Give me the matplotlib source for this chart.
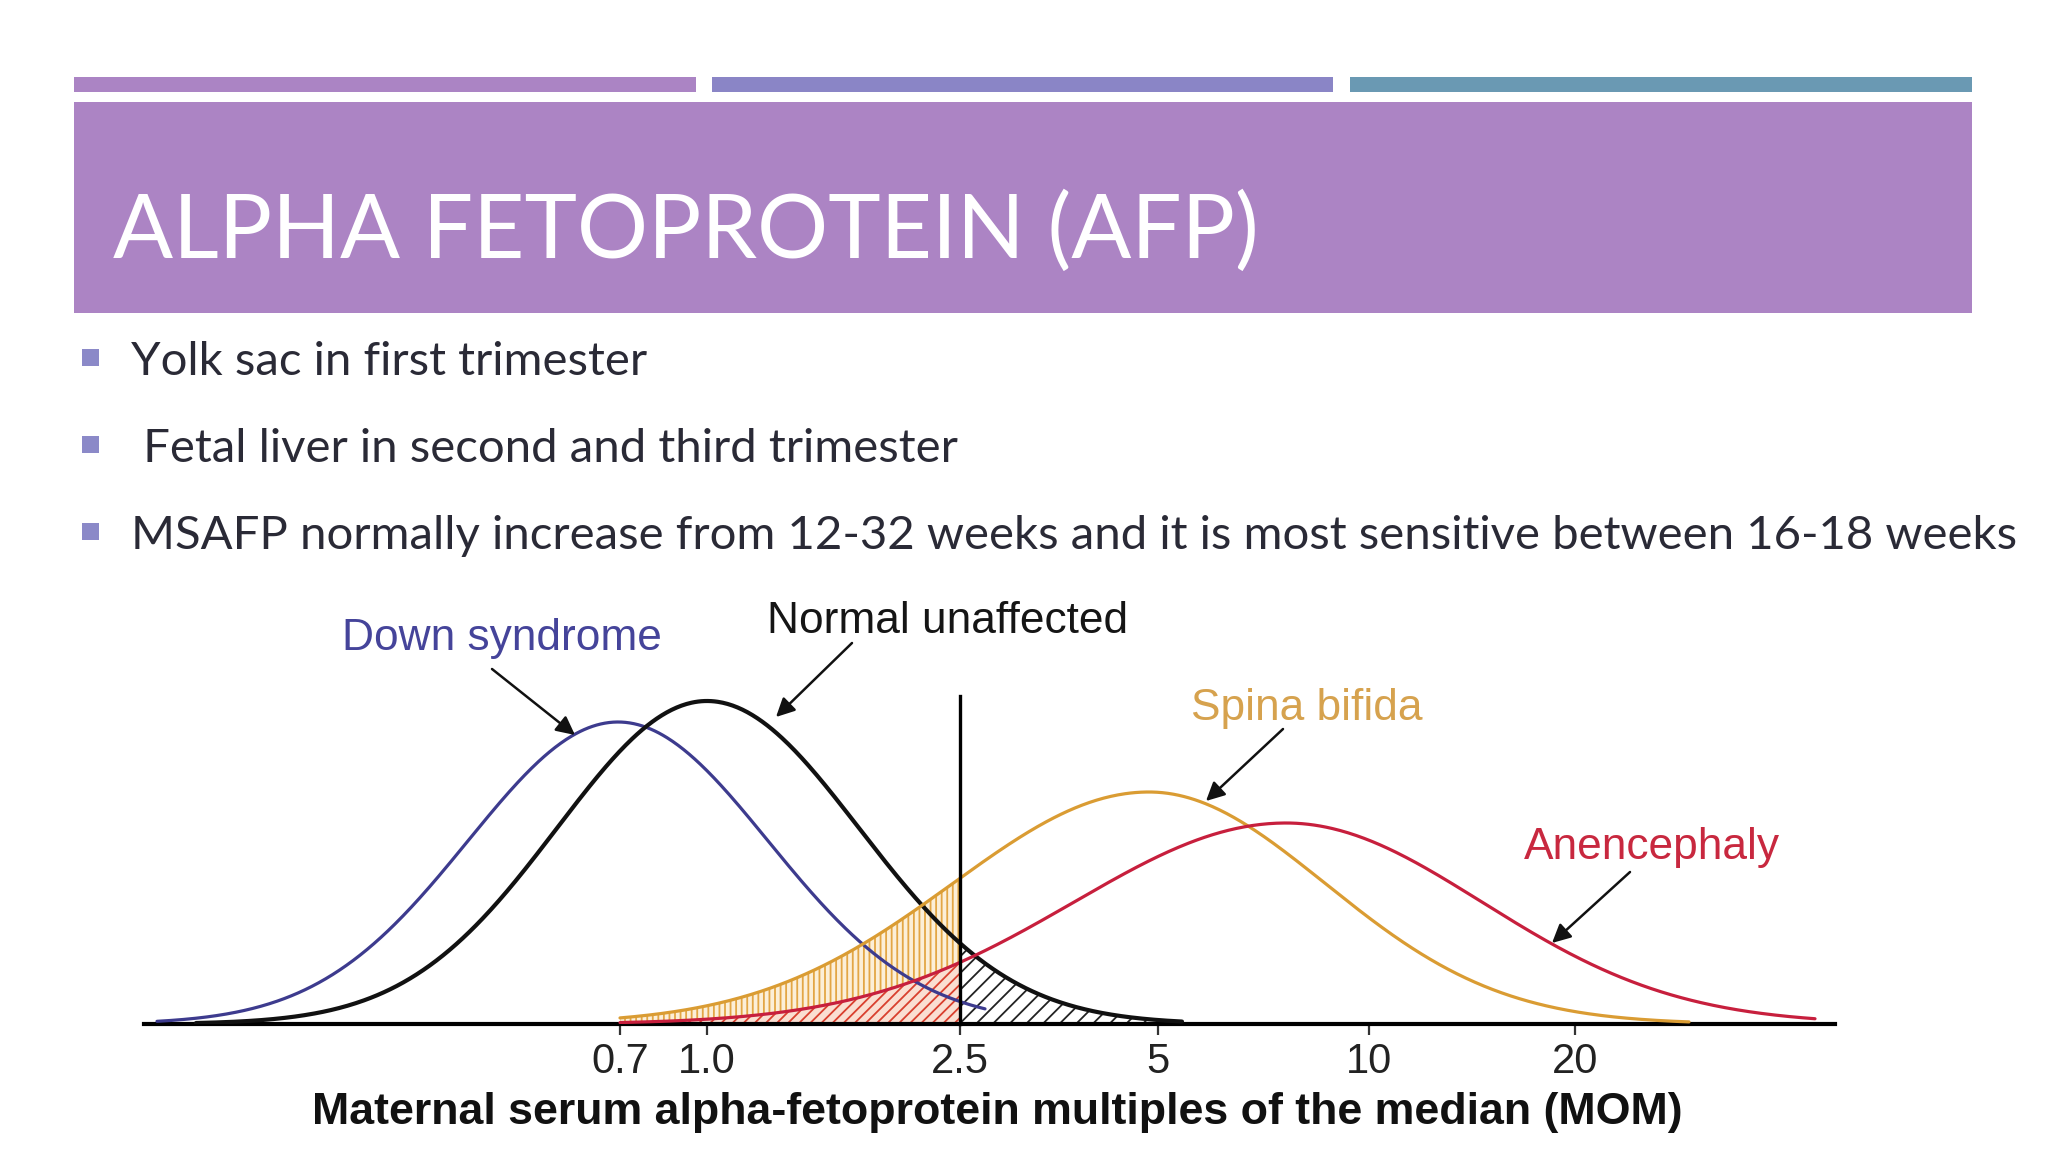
import numpy as np
import matplotlib
matplotlib.use("Agg")
import matplotlib.pyplot as plt
from matplotlib.patches import Rectangle

W, H = 2048, 1152

# ---------------- data ----------------
title = "ALPHA FETOPROTEIN (AFP)"
bullets = [
    "Yolk sac in first trimester",
    " Fetal liver in second and third trimester",
    "MSAFP normally increase from 12-32 weeks and it is most sensitive between 16-18 weeks",
]

tick_labels = ["0.7", "1.0", "2.5", "5", "10", "20"]
tick_pos = [620, 707, 960, 1158, 1369, 1575]      # position of each MOM tick on the axis
cutoff_pos = 960                                   # 2.5 MOM screening cut-off

series = ["Down syndrome", "Normal unaffected", "Spina bifida", "Anencephaly"]
peak_pos = [618, 707, 1149, 1286]
peak_height = [302, 323, 232, 201]
spread_left = [150, 150, 196, 212]
spread_right = [150, 152, 176, 196]
start_pos = [157, 196, 620, 620]
end_pos = [985, 1182, 1689, 1815]
colors = ["#3D3B8E", "#111111", "#DA9C33", "#C71F3D"]
label_colors = ["#45449A", "#151515", "#D6A24E", "#C8283F"]

xlabel = "Maternal serum alpha-fetoprotein multiples of the median (MOM)"

# ---------------- helpers ----------------
def fx(x):
    return x / W

def fy(y):
    return 1 - y / H

def curve(i, n=600):
    x = np.linspace(start_pos[i], end_pos[i], n)
    s = np.where(x < peak_pos[i], spread_left[i], spread_right[i])
    y = peak_height[i] * np.exp(-((x - peak_pos[i]) ** 2) / (2.0 * s ** 2))
    return x, y

def curve_on(i, x):
    s = np.where(x < peak_pos[i], spread_left[i], spread_right[i])
    y = peak_height[i] * np.exp(-((x - peak_pos[i]) ** 2) / (2.0 * s ** 2))
    return np.where((x >= start_pos[i]) & (x <= end_pos[i]), y, 0.0)

plt.rcParams["hatch.linewidth"] = 1.3

fig = plt.figure(figsize=(W / 100, H / 100), dpi=100)
fig.patch.set_facecolor("white")

# ---------------- slide header ----------------
bar_spans = [(74, 696, "#AB84C4"), (712, 1333, "#8A85C6"), (1350, 1972, "#6A99B3")]
for x0, x1, c in bar_spans:
    fig.add_artist(Rectangle((fx(x0), fy(92)), fx(x1 - x0), 15 / H,
                             transform=fig.transFigure, color=c, lw=0))
fig.add_artist(Rectangle((fx(74), fy(313)), fx(1972 - 74), 211 / H,
                         transform=fig.transFigure, color="#AC84C4", lw=0))
fig.text(fx(113), fy(258), title, color="white", fontsize=64,
         family=["Lato", "DejaVu Sans"], fontweight="normal", va="baseline", ha="left")

# ---------------- bullets ----------------
bullet_base = [375, 462, 549]
for txt, yb in zip(bullets, bullet_base):
    fig.add_artist(Rectangle((fx(82), fy(yb - 9)), 17 / W, 17 / H,
                             transform=fig.transFigure, color="#8B89C8", lw=0))
    fig.text(fx(131), fy(yb), txt, color="#2A2A36", fontsize=34.0,
             family=["Lato", "DejaVu Sans"], va="baseline", ha="left")

# ---------------- chart ----------------
AX_L, AX_R, AX_B, AX_T = 144, 1835, 1024, 630
ax = fig.add_axes([fx(AX_L), fy(AX_B), fx(AX_R - AX_L), (AX_B - AX_T) / H])
ax.set_xlim(AX_L, AX_R)
ax.set_ylim(0, AX_B - AX_T)
ax.patch.set_alpha(0)
for sp in ["top", "left", "right"]:
    ax.spines[sp].set_visible(False)
ax.spines["bottom"].set_linewidth(3.0)
ax.spines["bottom"].set_color("black")
ax.set_yticks([])
ax.set_xticks(tick_pos)
ax.set_xticklabels(tick_labels)
ax.tick_params(axis="x", direction="out", length=8, width=1.6, color="#333333",
               pad=5, labelsize=30, labelcolor="#222222")
for lab in ax.get_xticklabels():
    lab.set_family(["Liberation Sans", "DejaVu Sans"])
ax.set_xlabel(xlabel, fontsize=32.2, fontweight="bold", family=["Liberation Sans", "DejaVu Sans"],
              color="#111111", va="baseline")
ax.xaxis.set_label_coords((997 - AX_L) / (AX_R - AX_L), -(1124 - AX_B) / (AX_B - AX_T))

xs = np.linspace(start_pos[2], cutoff_pos, 400)
y_sb = curve_on(2, xs)
y_an = curve_on(3, xs)
ax.fill_between(xs, y_an, y_sb, facecolor="#FCEFD8", edgecolor="#E3A645", hatch="|||",
                linewidth=0, zorder=1)
ax.fill_between(xs, 0, y_an, facecolor="#FADFD2", edgecolor="#D9402E", hatch="///",
                linewidth=0, zorder=1)
xn = np.linspace(cutoff_pos, end_pos[1], 300)
ax.fill_between(xn, 0, curve_on(1, xn), facecolor="white", edgecolor="#222222", hatch="//",
                linewidth=0, zorder=1)

lws = [2.3, 3.0, 2.3, 2.3]
for i in range(4):
    x, y = curve(i)
    ax.plot(x, y, color=colors[i], lw=lws[i], zorder=3, solid_capstyle="round")

ax.plot([cutoff_pos, cutoff_pos], [0, AX_B - 696], color="black", lw=2.4, zorder=4,
        clip_on=False)

# ---------------- annotations ----------------
label_pos = [(342, 650), (767, 633), (1191, 720), (1524, 859)]
arrow_tail = [(492, 669), (852, 643), (1283, 729), (1630, 872)]
arrow_tip = [(575, 735), (776, 717), (1206, 801), (1552, 943)]
for i in range(4):
    fig.text(fx(label_pos[i][0]), fy(label_pos[i][1]), series[i], color=label_colors[i],
             fontsize=31.9, family=["Liberation Sans", "DejaVu Sans"], va="baseline", ha="left")
    ax.annotate("", xy=(arrow_tip[i][0], AX_B - arrow_tip[i][1]),
                xytext=(arrow_tail[i][0], AX_B - arrow_tail[i][1]),
                arrowprops=dict(arrowstyle="-|>", color="#111111", lw=1.8,
                                mutation_scale=28, shrinkA=0, shrinkB=0),
                annotation_clip=False, zorder=5)

fig.savefig("out.png", dpi=100, facecolor="white")
